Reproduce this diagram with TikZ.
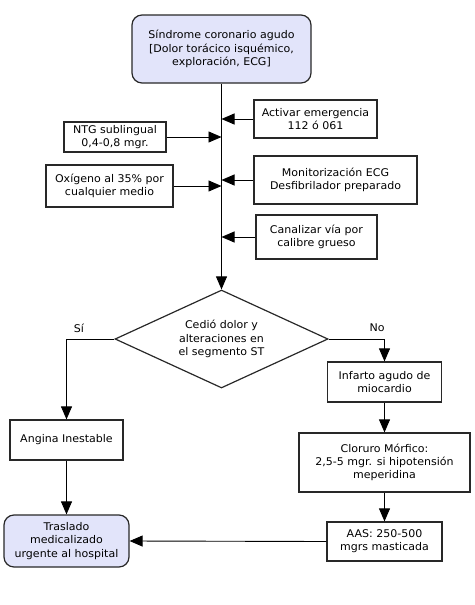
\documentclass[tikz,border=0pt]{standalone}
\usepackage{fontspec}
\setmainfont{DejaVu Sans}[FakeStretch=1.04]
\usepackage{xcolor}
\usetikzlibrary{shapes.geometric,arrows.meta}
\definecolor{lavanda}{RGB}{226,228,250}
\definecolor{borde}{RGB}{40,40,40}

\begin{document}
\begin{tikzpicture}[x=1pt, y=-1pt]
    \tikzstyle{caja} = [rectangle, draw=borde, line width=1.2pt, fill=white, inner sep=0pt, align=center, font=\fontsize{10.6}{13.3}\selectfont]
    \tikzstyle{inicio} = [caja, rounded corners=10pt, fill=lavanda]
    \tikzstyle{decision} = [diamond, draw=borde, line width=1.2pt, aspect=2.2, inner sep=0pt, align=center, font=\fontsize{10.6}{13.3}\selectfont]
    \tikzstyle{flecha} = [line width=0.9pt, -{Triangle[length=13pt, width=11pt]}]
    \tikzstyle{etiq} = [font=\fontsize{10.6}{13.3}\selectfont]

    \useasboundingbox (0,0) rectangle (474,605);

    % Start
    \node[inicio, minimum width=179pt, minimum height=68pt] (sca) at (221.5,49) {Síndrome coronario agudo\\{[}Dolor torácico isquémico,\\exploración, ECG]};

    % Side measures
    \node[caja, minimum width=123pt, minimum height=38pt] (act) at (315.5,119) {Activar emergencia\\112 ó 061};
    \node[caja, minimum width=102pt, minimum height=30pt] (ntg) at (115,137) {NTG sublingual\\0,4-0,8 mgr.};
    \node[caja, minimum width=127pt, minimum height=42pt] (oxi) at (109.5,186) {Oxígeno al 35\% por\\cualquier medio};
    \node[caja, minimum width=163pt, minimum height=48pt] (mon) at (335.5,180) {Monitorización ECG\\Desfibrilador preparado};
    \node[caja, minimum width=121pt, minimum height=44pt] (can) at (316.5,237) {Canalizar vía por\\calibre grueso};

    % Decision
    \node[decision, minimum width=213pt, minimum height=98pt] (ced) at (221.5,339) {Cedió dolor y\\alteraciones en\\el segmento ST};

    % Branches
    \node[caja, minimum width=113pt, minimum height=40pt] (ang) at (66.5,440) {Angina Inestable};
    \node[caja, minimum width=114pt, minimum height=40pt] (iam) at (384.5,382) {Infarto agudo de\\miocardio};
    \node[caja, minimum width=171pt, minimum height=59pt] (clo) at (384.5,462.5) {Cloruro Mórfico:\\2,5-5 mgr. si hipotensión\\meperidina};
    \node[caja, minimum width=115pt, minimum height=39pt] (aas) at (384.5,541.5) {AAS: 250-500\\mgrs masticada};
    \node[inicio, minimum width=125pt, minimum height=52pt] (tra) at (66.5,541) {Traslado\\medicalizado\\urgente al hospital};

    % Connectors
    \draw[flecha] (sca.south) -- (ced.north);
    \draw[flecha] (act.west) -- (act.west -| sca.south);
    \draw[flecha] (ntg.east) -- (ntg.east -| sca.south);
    \draw[flecha] (oxi.east) -- (oxi.east -| sca.south);
    \draw[flecha] (mon.west) -- (mon.west -| sca.south);
    \draw[flecha] (can.west) -- (can.west -| sca.south);
    \draw[flecha] (ced.west) -| (ang.north);
    \draw[flecha] (ced.east) -| (iam.north);
    \draw[flecha] (ang.south) -- (tra.north);
    \draw[flecha] (iam.south) -- (clo.north);
    \draw[flecha] (clo.south) -- (aas.north);
    \draw[flecha] (aas.west) -- (tra.east);

    % Labels
    \node[etiq] (si) at (79,328) {Sí};
    \node[etiq] (no) at (377,328) {No};

\end{tikzpicture}
\end{document}
